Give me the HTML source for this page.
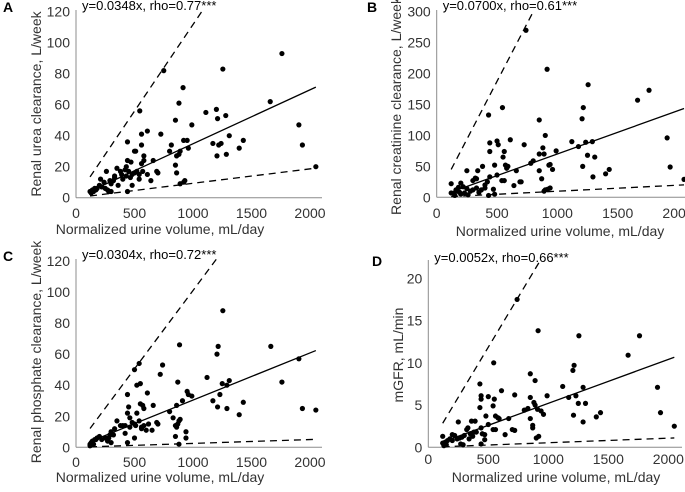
<!DOCTYPE html>
<html><head><meta charset="utf-8"><style>
body{margin:0;background:#fff;width:685px;height:487px;overflow:hidden}
svg{font-family:"Liberation Sans",Arial,sans-serif}
</style></head><body>
<svg id="c" width="685" height="487"></svg>
<script>
const xTicks=[0,500,1000,1500,2000];
const aX=[750,1760,1255,915,880,545,1200,1110,1280,1210,850,1660,990,1905,610,725,560,1310,920,950,1430,1170,1240,1220,1935,815,1395,960,440,560,500,510,580,1205,1285,860,880,890,800,440,470,430,350,380,260,450,420,480,500,520,570,560,580,660,690,700,610,540,465,430,400,330,320,300,290,210,240,200,180,160,140,120,130,150,170,220,250,270,280,300,440,480,540,640,850,860,890,920,930,2050,360,390,330,300];
const aY=[82,93,83,71,61,56,57,55,53,51,50,62,47,47,43,41,41,40,37,37,37,35,35,34,34,34,32,32,36,34,30,30,27,27,28,27,28,30,30,24,23,20,19,17,17,17,18,15,16,17,17,22,24,24,17,16,15,15,13,14,12,13,11,10,11,12,10,8,6,6,5,4,3,4,5,7,6,5,4,4,4,8,12,11,21,16,9,10,11,20,8,15,14,9];
const bX=[740,915,1255,1760,1665,545,1215,430,850,1205,1910,900,440,500,510,560,610,725,1120,1235,1290,1175,990,440,880,850,890,800,780,550,1250,1310,590,580,570,480,380,340,250,440,500,540,560,660,700,690,640,930,960,940,850,870,1210,1935,1400,1430,1295,2050,330,300,320,420,400,200,120,180,220,250,160,140,150,170,280,300,350,400,430,480,470,230,260,200,190,900,920,940,890,370,330,120];
const bY=[270,207,182,173,157,145,145,133,125,127,96,100,88,91,85,74,93,85,90,89,90,82,75,74,80,70,70,59,55,65,68,65,50,47,52,52,50,43,43,33,36,27,27,43,25,25,19,52,45,53,43,30,50,49,38,45,33,29,30,27,31,25,20,23,22,16,17,14,12,6,3,10,10,12,8,15,3,5,13,7,4,5,8,12,13,15,10,12,15,7];
const cX=[1255,885,1665,1215,1205,1905,540,740,500,720,1120,1760,1250,1310,1290,870,520,550,610,950,960,990,440,1230,1170,1210,1290,1935,2050,1430,1395,910,860,800,660,570,550,580,450,440,460,480,500,420,380,350,330,300,290,320,250,200,180,160,140,120,130,150,170,220,270,280,300,400,460,510,540,560,580,600,650,690,700,830,850,860,870,880,890,850,880,940,940,440,500,520,560,620,420,120];
const cY=[88,66,65,65,60,57,54,53,50,47,45,42,41,43,40,42,40,41,35,36,34,33,34,34,30,26,25,25,24,29,21,30,27,23,27,27,28,25,26,22,19,16,15,14,14,17,12,10,8,8,6,7,6,5,4,2,3,2,5,5,4,6,3,14,13,14,17,12,14,11,11,16,15,19,14,13,15,17,18,7,2,10,6,3,6,22,13,15,9,1];
const dX=[740,915,1255,1760,1665,545,1215,1205,850,890,430,1120,1910,1290,610,720,990,1230,440,440,500,550,1170,850,880,890,1250,1310,800,830,910,940,960,540,430,560,580,590,670,480,850,870,870,1210,1290,1400,1435,1935,2050,250,360,390,320,330,440,500,540,560,700,720,640,380,400,450,470,300,280,200,220,120,180,160,140,120,150,240,260,340,370,900,920,470,440,270,290,200,350,130];
const dY=[17.5,13.8,13.2,13.2,10.9,10,9.7,9.1,8.7,7.9,7.5,7.2,7.1,7.1,6.7,6.2,6.1,6.1,6.1,5.7,6,5.7,5.9,5.9,5.3,5,5.2,5.2,4.4,4.6,4.5,4.3,3.9,4.9,4.7,3.7,3.5,3.4,3.4,3.7,3.4,2.6,2.3,3.8,3.0,3.6,4.1,4.1,2.5,3,3.1,3.1,2.1,2.3,2.3,2.7,2.1,2.1,2.1,2.0,1.5,1.8,1.8,1.6,1.5,1.4,1.2,1.5,1.4,1.3,1.0,0.8,0.6,0.5,0.3,1.0,1.1,1.0,1.3,1.1,1.3,0.9,0.4,0.4,0.3,0.8,1.6,0.2];
const aYT=[0,20,40,60,80,100,120], bYT=[0,50,100,150,200,250,300], cYT=[0,20,40,60,80,100,120], dYT=[0,5,10,15,20];
const slopesA=[0.1117,0.0348,0.0093], slopesB=[0.375,0.07,0.0098], slopesC=[0.101,0.0304,0.0025], slopesD=[0.0237,0.0052,0.00054];

const NS="http://www.w3.org/2000/svg";
const svg=document.getElementById('c');
function mk(tag,attrs,parent,txt){const e=document.createElementNS(NS,tag);for(const k in attrs)e.setAttribute(k,attrs[k]);if(txt!==undefined)e.textContent=txt;(parent||svg).appendChild(e);return e;}

function panel(p){
  const g=mk('g',{});
  
  
  const sx=v=>p.x0+(v/2000)*(p.x2000-p.x0);
  const sy=v=>p.y0-(v/p.ymaxTick)*(p.y0-p.yTop);
  const xEnd=p.xEnd, yTopAxis=p.yAxisTop;
  const ax=mk('line',{x1:p.x0,y1:p.y0,x2:xEnd,y2:p.y0,stroke:'#8c8c8c','stroke-width':1},g);
  
  const ay=mk('line',{x1:p.x0,y1:p.y0,x2:p.x0,y2:yTopAxis,stroke:'#8c8c8c','stroke-width':1},g);
  
  xTicks.forEach(t=>{const e=mk('text',{x:sx(t),y:p.xTickY,'text-anchor':'middle','font-size':14,fill:'#333'},g,String(t));
    });
  p.yt.forEach(t=>{const e=mk('text',{x:p.x0-6,y:sy(t)+5,'text-anchor':'end','font-size':14,fill:'#333'},g,String(t));
    });
  const xt=mk('text',{x:p.xTitleX,y:p.xTitleY,'text-anchor':'middle','font-size':14,fill:'#333'},g,'Normalized urine volume, mL/day');
  
  const yt=mk('text',{x:0,y:0,'text-anchor':'middle','font-size':14,fill:'#333',transform:`translate(${p.yTitleX},${p.yTitleY}) rotate(-90)`},g,p.ytitle);
  
  const L=mk('text',{x:p.lx,y:p.ly,'font-size':14,'font-weight':'bold',fill:'#000'},g,p.letter);
  
  const an=mk('text',{x:p.x0+6,y:p.annY,'font-size':13,fill:'#000'},g,p.ann);
  
  p.slopes.forEach((s,i)=>{
    let x1=120,x2=2050; const ymax=(p.y0-yTopAxis)/(p.y0-p.yTop)*p.ymaxTick;
    if(s*x2>ymax)x2=ymax/s;
    const l=mk('line',{x1:sx(x1),y1:sy(s*x1),x2:sx(x2),y2:sy(s*x2),stroke:'#000','stroke-width':1.3},g);
    if(i!==1)l.setAttribute('stroke-dasharray','7,5');
    
    
  });
  p.xs.forEach((xv,i)=>{const c=mk('circle',{cx:sx(xv),cy:sy(p.ys[i]),r:2.6,fill:'#000'},g);
    });
}
panel({letter:'A',lx:3,ly:12,x0:76,x2000:310,xEnd:322,y0:197.7,yTop:11.7,ymaxTick:120,yAxisTop:10,yt:aYT,xs:aX,ys:aY,slopes:slopesA,
  xTickY:218,xTitleX:160,xTitleY:234,yTitleX:41,yTitleY:104,ytitle:'Renal urea clearance, L/week',ann:'y=0.0348x, rho=0.77***',annY:10});
panel({letter:'B',lx:367,ly:12,x0:436.7,x2000:678,xEnd:685,y0:197.3,yTop:11.7,ymaxTick:300,yAxisTop:10,yt:bYT,xs:bX,ys:bY,slopes:slopesB,
  xTickY:218,xTitleX:560,xTitleY:236,yTitleX:401,yTitleY:106,ytitle:'Renal creatinine clearance, L/week',ann:'y=0.0700x, rho=0.61***',annY:10});
panel({letter:'C',lx:3,ly:261,x0:76,x2000:310,xEnd:322,y0:447.3,yTop:261,ymaxTick:120,yAxisTop:259,yt:cYT,xs:cX,ys:cY,slopes:slopesC,
  xTickY:467,xTitleX:160,xTitleY:482,yTitleX:41,yTitleY:352,ytitle:'Renal phosphate clearance, L/week',ann:'y=0.0304x, rho=0.72***',annY:259});
panel({letter:'D',lx:372,ly:266,x0:428.3,x2000:668.3,xEnd:682,y0:447.3,yTop:278.3,ymaxTick:20,yAxisTop:260,yt:dYT,xs:dX,ys:dY,slopes:slopesD,
  xTickY:464,xTitleX:556,xTitleY:482,yTitleX:403,yTitleY:355,ytitle:'mGFR, mL/min',ann:'y=0.0052x, rho=0.66***',annY:262});
</script>
</body></html>
